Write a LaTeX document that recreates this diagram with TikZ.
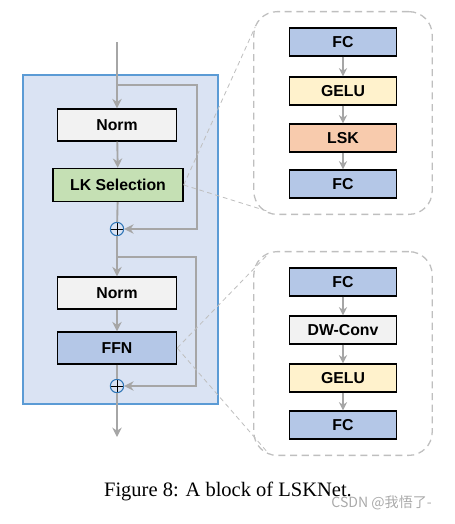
\documentclass[tikz,border=0pt]{standalone}
\usepackage{fontspec}
\setmainfont{Liberation Serif}
\newfontfamily\blkfont{Liberation Sans}
\newfontfamily\cjkfont{Noto Sans CJK SC}
\usepackage{xcolor}
\definecolor{framefill}{RGB}{218,227,243}
\definecolor{frameblue}{RGB}{91,155,213}
\definecolor{normgray}{RGB}{242,242,242}
\definecolor{lkgreen}{RGB}{197,224,180}
\definecolor{fcblue}{RGB}{180,199,231}
\definecolor{geluyellow}{RGB}{255,242,204}
\definecolor{lskorange}{RGB}{248,203,173}
\definecolor{arrgray}{RGB}{166,166,166}
\definecolor{dashgray}{RGB}{191,191,191}
\definecolor{plusblue}{RGB}{46,117,182}
\definecolor{markgray}{RGB}{170,170,170}
\usepackage{tikz}
\usetikzlibrary{arrows.meta,calc,fit}

\begin{document}
\begin{tikzpicture}[
  x=0.03cm, y=-0.03cm,
  blk/.style={rectangle,draw=black,line width=1.2pt,inner sep=0pt,
              minimum width=3.57cm,minimum height=0.96cm,
              font=\blkfont\bfseries\fontsize{13.5}{15}\selectfont},
  sub/.style={blk,minimum width=3.21cm,minimum height=0.84cm},
  flow/.style={draw=arrgray,line width=1.6pt,-{Stealth[length=8pt,width=8pt]}},
  subflow/.style={draw=arrgray,line width=1.3pt,-{Stealth[length=7pt,width=7pt]}},
  link/.style={draw=arrgray,line width=1.6pt},
  sumnode/.style={circle,draw=plusblue,line width=0.9pt,minimum size=0.4cm,
              inner sep=0pt,
              path picture={\draw[black,line width=0.7pt]
                (path picture bounding box.north) -- (path picture bounding box.south)
                (path picture bounding box.west) -- (path picture bounding box.east);}},
  frame/.style={rectangle,draw=frameblue,fill=framefill,line width=1.2pt,
              minimum width=5.85cm,minimum height=9.87cm},
  zoombox/.style={rectangle,draw=dashgray,line width=1.1pt,
              dash pattern=on 6pt off 4pt,rounded corners=0.7cm,
              inner xsep=1.05cm,inner ysep=0.47cm},
  guide/.style={draw=dashgray,line width=0.7pt,dash pattern=on 4pt off 3pt},
]
  \useasboundingbox (0,0) rectangle (455,524);

  \node[frame] (block) at (120.5,239.5) {};

  \coordinate (in) at (117,42);
  \coordinate (split1) at (117,85);
  \coordinate (turn1) at (197,85);
  \coordinate (split2) at (117,257);
  \coordinate (turn2) at (196,257);
  \coordinate (out) at (117,437);

  \node[blk,fill=normgray] (norm1) at (117,125) {Norm};
  \node[blk,fill=lkgreen,minimum width=3.9cm,minimum height=0.99cm]
    (lks) at (118,185) {LK Selection};
  \node[sumnode] (add1) at (117,229) {};
  \node[blk,fill=normgray] (norm2) at (117,293) {Norm};
  \node[blk,fill=fcblue] (ffn) at (117,348) {FFN};
  \node[sumnode] (add2) at (117,386) {};

  \draw[flow] (in) -- (norm1);
  \draw[flow] (norm1) -- (lks);
  \draw[link] (lks) -- (add1);
  \draw[flow] (split1) -- (turn1) |- (add1);
  \draw[flow] (add1) -- (norm2);
  \draw[flow] (norm2) -- (ffn);
  \draw[link] (ffn) -- (add2);
  \draw[flow] (split2) -- (turn2) |- (add2);
  \draw[flow] (add2) -- (out);

  \node[sub,fill=fcblue] (fc1) at (343,42) {FC};
  \node[sub,fill=geluyellow] (gelu1) at (343,91) {GELU};
  \node[sub,fill=lskorange] (lsk) at (343,138) {LSK};
  \node[sub,fill=fcblue] (fc2) at (343,184) {FC};

  \node[sub,fill=fcblue] (fc3) at (343,282) {FC};
  \node[sub,fill=normgray] (dwconv) at (343,330) {DW-Conv};
  \node[sub,fill=geluyellow] (gelu2) at (343,378) {GELU};
  \node[sub,fill=fcblue] (fc4) at (343,425) {FC};

  \foreach \a/\b in {fc1/gelu1,gelu1/lsk,lsk/fc2,fc3/dwconv,dwconv/gelu2,gelu2/fc4}
    \draw[subflow] (\a) -- (\b);

  \node[zoombox,fit=(fc1)(fc2)] (lkzoom) {};
  \node[zoombox,fit=(fc3)(fc4)] (ffnzoom) {};

  \draw[guide] (lks.east) -- ($(lkzoom.north west)+(2,16)$);
  \draw[guide] (lks.east) -- ($(lkzoom.south west)+(17,-3)$);
  \draw[guide] (ffn.east) -- ($(ffnzoom.north west)+(15,3)$);
  \draw[guide] (ffn.east) -- ($(ffnzoom.south west)+(15,-3)$);

  \node[font=\fontsize{17.5}{20}\selectfont,anchor=base]
    (caption) at (228,496) {Figure 8: A block of LSKNet.};
  \node[font=\cjkfont\fontsize{12}{14}\selectfont,text=markgray,
        anchor=base east,inner sep=0pt] (mark) at (432,507) {CSDN @我悟了-};
\end{tikzpicture}
\end{document}
